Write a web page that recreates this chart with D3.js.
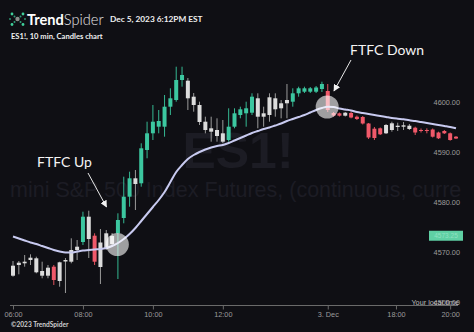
<!DOCTYPE html>
<html><head><meta charset="utf-8">
<script src="https://cdn.jsdelivr.net/npm/d3@7"></script>
<style>
html,body{margin:0;padding:0;background:#0f0f14;}
svg{display:block;}
</style></head><body>
<svg id="c" width="474" height="332"></svg>
<script>
// ---- data (ES1!, 10 min candles) ----
const opens  = [4565.26,4567.40,4567.74,4568.40,4568.74,4566.20,4565.26,4567.06,4564.20,4568.10,
 4568.06,4570.40,4572.00,4577.06,4573.26,4567.00,4570.60,4573.20,4573.74,4576.80,
 4581.06,4584.74,4583.74,4590.40,4593.74,4595.06,4595.06,4599.06,4600.40,4604.40,
 4604.26,4601.06,4599.40,4596.06,4594.74,4594.40,4593.74,4592.40,4595.06,4597.40,
 4597.74,4597.86,4600.74,4597.06,4597.40,4600.74,4598.74,4599.74,4600.06,4601.74,
 4602.06,4602.06,4602.06,4602.60,4602.20,4597.80,4597.74,4597.26,4597.80,4597.06,
 4597.00,4595.70,4594.66,4594.74,4593.74,4594.40,4595.00,4595.06,4595.26,4594.86,
 4594.40,4594.40,4594.50,4593.90,4594.20,4593.74,4593.06];
const highs  = [4568.20,4568.20,4569.40,4569.54,4569.06,4568.06,4567.40,4567.40,4568.06,4568.80,
 4572.74,4572.40,4578.06,4578.26,4573.74,4574.60,4574.40,4573.80,4577.74,4585.06,
 4586.06,4586.40,4591.74,4596.06,4599.40,4598.40,4601.40,4602.74,4607.06,4607.06,
 4604.80,4601.80,4600.06,4597.06,4597.06,4596.74,4596.40,4598.74,4598.74,4599.06,
 4600.06,4601.74,4601.74,4599.06,4601.74,4601.74,4600.40,4603.60,4602.74,4603.06,
 4603.06,4603.00,4603.20,4604.06,4603.60,4598.00,4597.90,4598.00,4598.06,4597.30,
 4597.20,4595.80,4595.00,4594.90,4595.60,4596.06,4595.86,4596.00,4595.60,4595.06,
 4594.70,4594.74,4594.70,4594.06,4594.40,4593.90,4593.20];
const lows   = [4565.06,4565.54,4567.06,4567.40,4565.74,4564.74,4564.74,4563.40,4563.06,4561.80,
 4567.74,4568.40,4571.40,4568.80,4567.40,4563.60,4570.40,4571.00,4564.60,4575.74,
 4579.06,4578.40,4583.06,4588.74,4592.40,4593.74,4593.06,4597.40,4600.06,4603.06,
 4598.40,4598.06,4595.40,4593.74,4592.06,4592.06,4591.74,4592.06,4594.74,4596.74,
 4595.06,4597.40,4594.74,4595.06,4596.06,4597.06,4596.74,4596.74,4599.06,4601.06,
 4601.80,4601.80,4601.80,4602.00,4598.00,4597.10,4597.10,4597.10,4596.74,4596.40,
 4595.50,4592.60,4592.40,4593.40,4593.60,4594.06,4594.20,4594.40,4594.40,4593.40,
 4593.90,4593.74,4592.90,4592.60,4593.60,4592.26,4592.60];
const closes = [4567.26,4567.86,4568.06,4568.86,4565.94,4565.26,4566.86,4564.40,4567.94,4568.40,
 4570.40,4571.06,4577.06,4572.60,4568.06,4571.90,4573.74,4571.60,4576.40,4581.06,
 4584.74,4583.60,4590.74,4593.74,4596.06,4596.20,4599.06,4600.74,4604.40,4605.40,
 4600.74,4599.40,4596.00,4594.40,4594.06,4593.20,4592.06,4595.06,4597.74,4598.54,
 4598.74,4601.06,4597.06,4597.74,4600.94,4598.54,4599.74,4600.40,4601.74,4602.74,
 4602.74,4602.74,4602.90,4603.60,4598.40,4597.30,4597.26,4597.86,4596.90,4596.60,
 4595.70,4592.90,4592.80,4593.54,4595.40,4595.74,4595.26,4595.34,4594.60,4593.90,
 4594.20,4594.20,4593.06,4592.74,4593.74,4592.40,4592.70];
// trend colouring per candle: T = up (teal), R = down (red), W = mixed (white)
const trendKeys = ("WWWWWWWRWW"+"WWTWRWWWTT"+"TWTTTTTTTT"+"WWWWWWWTTT"+"TTWWWWWWTT"+
                   "TTTTRRRWRR"+"RRRRWWWWWR"+"RRRRRRR").split("");
// moving average
const maValues = [4573.1,4572.7,4572.3,4571.9,4571.6,4571.2,4570.8,4570.4,4570.1,4569.9,
 4569.9,4570.1,4570.3,4570.4,4570.5,4570.6,4570.8,4571.2,4571.8,4572.6,
 4573.6,4574.8,4576.2,4577.6,4579.0,4580.4,4582.0,4584.0,4586.0,4587.4,
 4588.6,4589.4,4590.0,4590.5,4590.9,4591.2,4591.4,4591.8,4592.3,4592.8,
 4593.3,4593.8,4594.2,4594.6,4594.9,4595.3,4595.7,4596.2,4596.6,4597.0,
 4597.4,4597.9,4598.4,4598.8,4599.06,4599.0,4598.7,4598.5,4598.3,4598.0,
 4597.8,4597.6,4597.4,4597.2,4597.0,4596.8,4596.66,4596.54,4596.34,4596.2,
 4596.0,4595.8,4595.6,4595.4,4595.2,4595.0,4594.74];
const timeTickPos    = [0, 12, 24, 36, 54, 65.7, 75];
const timeTickLabels = ["06:00","08:00","10:00","12:00","3. Dec","18:00","20:00"];
const priceTicks = [4560, 4570, 4580, 4590, 4600];
const lastPrice = 4573.25;
const signals = [{label:"FTFC Up", idx:17.9, price:4571.5}, {label:"FTFC Down", idx:53.9, price:4599.0}];

// ---- drawing ----
const svg = d3.select("#c");
const W = 474, H = 332;
const bg = "#0f0f14";
svg.append("rect").attr("width",W).attr("height",H).attr("fill",bg);
const defs = svg.append("defs");

const x = d3.scaleLinear().domain([0, 76]).range([13, 456]);
const y = d3.scaleLinear().domain([4560, 4600]).range([302, 102]);
const colors = {T:"#3cc7a0", R:"#f0596a", W:"#dcdcdc"};
const wickColors = {T:"#35b892", R:"#e0525c", W:"#9b9b9b"};

// watermark
svg.append("text").attr("x",238).attr("y",168).attr("text-anchor","middle")
  .attr("font-family","Liberation Sans, Arial, sans-serif").attr("font-weight","bold")
  .attr("font-size",50).attr("fill","#1c1c24").text("ES1!");
svg.append("text").attr("x",10).attr("y",197)
  .attr("font-family","Liberation Sans, Arial, sans-serif")
  .attr("font-size",21.5).attr("fill","#1c1c24")
  .text("mini S&P 500 Index Futures, (continuous, curre");

// header
const logo = svg.append("g");
const dots = [[17.5,19,2.2,"#8a8f8c"],[12,14,1.4,"#3fcf9a"],[23,14,1.4,"#3fcf9a"],[12,24.5,1.4,"#3fcf9a"],
  [23,24.5,1.4,"#3fcf9a"],[14.5,16.5,1,"#2f9d78"],[20.5,16.5,1,"#2f9d78"],[14.5,22,1,"#2f9d78"],[20.5,22,1,"#2f9d78"],
  [10,19,0.9,"#2f9d78"],[25,19,0.9,"#2f9d78"]];
logo.selectAll("circle").data(dots).join("circle")
  .attr("cx",d=>d[0]).attr("cy",d=>d[1]).attr("r",d=>d[2]).attr("fill",d=>d[3]);
const brand = svg.append("text").attr("x",27).attr("y",24.5)
  .attr("font-family","Lato, sans-serif").attr("font-size",14.6).attr("fill","#ffffff");
brand.append("tspan").attr("font-weight","bold").text("Trend");
brand.append("tspan").attr("font-weight","300").attr("fill","#e8e8e8").text("Spider");
svg.append("text").attr("x",110).attr("y",21.5)
  .attr("font-family","Lato, sans-serif").attr("font-weight","bold").attr("font-size",8.3)
  .attr("fill","#f0f0f0").text("Dec 5, 2023 6:12PM EST");
svg.append("text").attr("x",11).attr("y",38.5)
  .attr("font-family","Lato, sans-serif").attr("font-weight","bold").attr("font-size",7.6)
  .attr("fill","#f0f0f0").text("ES1!, 10 min, Candles chart");

// candles
const candles = opens.map((o,i)=>({i, o, h:highs[i], l:lows[i], c:closes[i], k:trendKeys[i]}));
const cg = svg.append("g");
cg.selectAll("line").data(candles).join("line")
  .attr("x1",d=>x(d.i)).attr("x2",d=>x(d.i))
  .attr("y1",d=>y(d.h)).attr("y2",d=>y(d.l))
  .attr("stroke",d=>wickColors[d.k]).attr("stroke-width",1);
cg.selectAll("rect").data(candles).join("rect")
  .attr("x",d=>x(d.i)-2).attr("width",4)
  .attr("y",d=>y(Math.max(d.o,d.c)))
  .attr("height",d=>Math.max(1, y(Math.min(d.o,d.c))-y(Math.max(d.o,d.c))))
  .attr("fill",d=>colors[d.k]);

// moving average
svg.append("path").datum(maValues)
  .attr("d", d3.line().x((d,i)=>x(i)).y(d=>y(d)).curve(d3.curveMonotoneX))
  .attr("fill","none").attr("stroke","#c8caf0").attr("stroke-width",2);

// signal circles
svg.selectAll("circle.sig").data(signals).join("circle").attr("class","sig")
  .attr("cx",d=>x(d.idx)).attr("cy",d=>y(d.price)).attr("r",11.5)
  .attr("fill","#ffffff").attr("fill-opacity",0.6);

// annotations
defs.append("marker").attr("id","ah").attr("viewBox","0 0 10 10").attr("refX",9).attr("refY",5)
  .attr("markerWidth",7).attr("markerHeight",7).attr("orient","auto-start-reverse")
  .append("path").attr("d","M0,0 L10,5 L0,10 z").attr("fill","#f2f2f2");
const notes = [
  {text:"FTFC Up", tx:37, ty:167, x1:88, y1:173, x2:106.5, y2:207},
  {text:"FTFC Down", tx:350, ty:55, x1:351, y1:60, x2:334, y2:91}
];
svg.selectAll("text.note").data(notes).join("text").attr("class","note")
  .attr("x",d=>d.tx).attr("y",d=>d.ty)
  .attr("font-family","Lato, sans-serif").attr("font-size",14).attr("fill","#f4f4f4")
  .text(d=>d.text);
svg.selectAll("line.note").data(notes).join("line").attr("class","note")
  .attr("x1",d=>d.x1).attr("y1",d=>d.y1).attr("x2",d=>d.x2).attr("y2",d=>d.y2)
  .attr("stroke","#e8e8e8").attr("stroke-width",1).attr("marker-end","url(#ah)");

// price axis labels
const fmt = d3.format(".2f");
svg.selectAll("text.py").data(priceTicks).join("text").attr("class","py")
  .attr("x",460).attr("y",d=>y(d)).attr("dy","0.35em").attr("text-anchor","end")
  .attr("font-family","Liberation Sans, Arial, sans-serif").attr("font-size",7.3)
  .attr("fill","#9c9c9c").text(d=>fmt(d));
svg.append("text").attr("x",459).attr("y",y(4560)).attr("dy","0.35em").attr("text-anchor","end")
  .attr("font-family","Liberation Sans, Arial, sans-serif").attr("font-size",7.3)
  .attr("fill","#b8b8b8").text("Your local time");

// last price tag
svg.append("rect").attr("x",429).attr("y",y(lastPrice)-5).attr("width",34).attr("height",10)
  .attr("fill","#5fd0a4");
svg.append("text").attr("x",446).attr("y",y(lastPrice)).attr("dy","0.35em").attr("text-anchor","middle")
  .attr("font-family","Liberation Sans, Arial, sans-serif").attr("font-size",6.5)
  .attr("fill","#8fe2c2").text(fmt(lastPrice));

// time axis
const xAxis = d3.axisBottom(x).tickValues(timeTickPos)
  .tickFormat((d,i)=>timeTickLabels[i]).tickSize(4).tickPadding(2);
const ax = svg.append("g").attr("transform","translate(0,305.5)").call(xAxis);
ax.select(".domain").remove();
ax.append("line").attr("x1",10).attr("x2",458).attr("y1",0).attr("y2",0)
  .attr("stroke","#6a6a6a").attr("stroke-width",1);
ax.selectAll(".tick line").attr("stroke","#6a6a6a");
ax.selectAll(".tick text").attr("fill","#9c9c9c")
  .attr("font-family","Liberation Sans, Arial, sans-serif").attr("font-size",7.3);

// copyright
svg.append("text").attr("x",11).attr("y",327)
  .attr("font-family","Lato, sans-serif").attr("font-weight","bold").attr("font-size",6.6)
  .attr("fill","#d0d0d0").text("©2023 TrendSpider");
</script>
</body></html>
